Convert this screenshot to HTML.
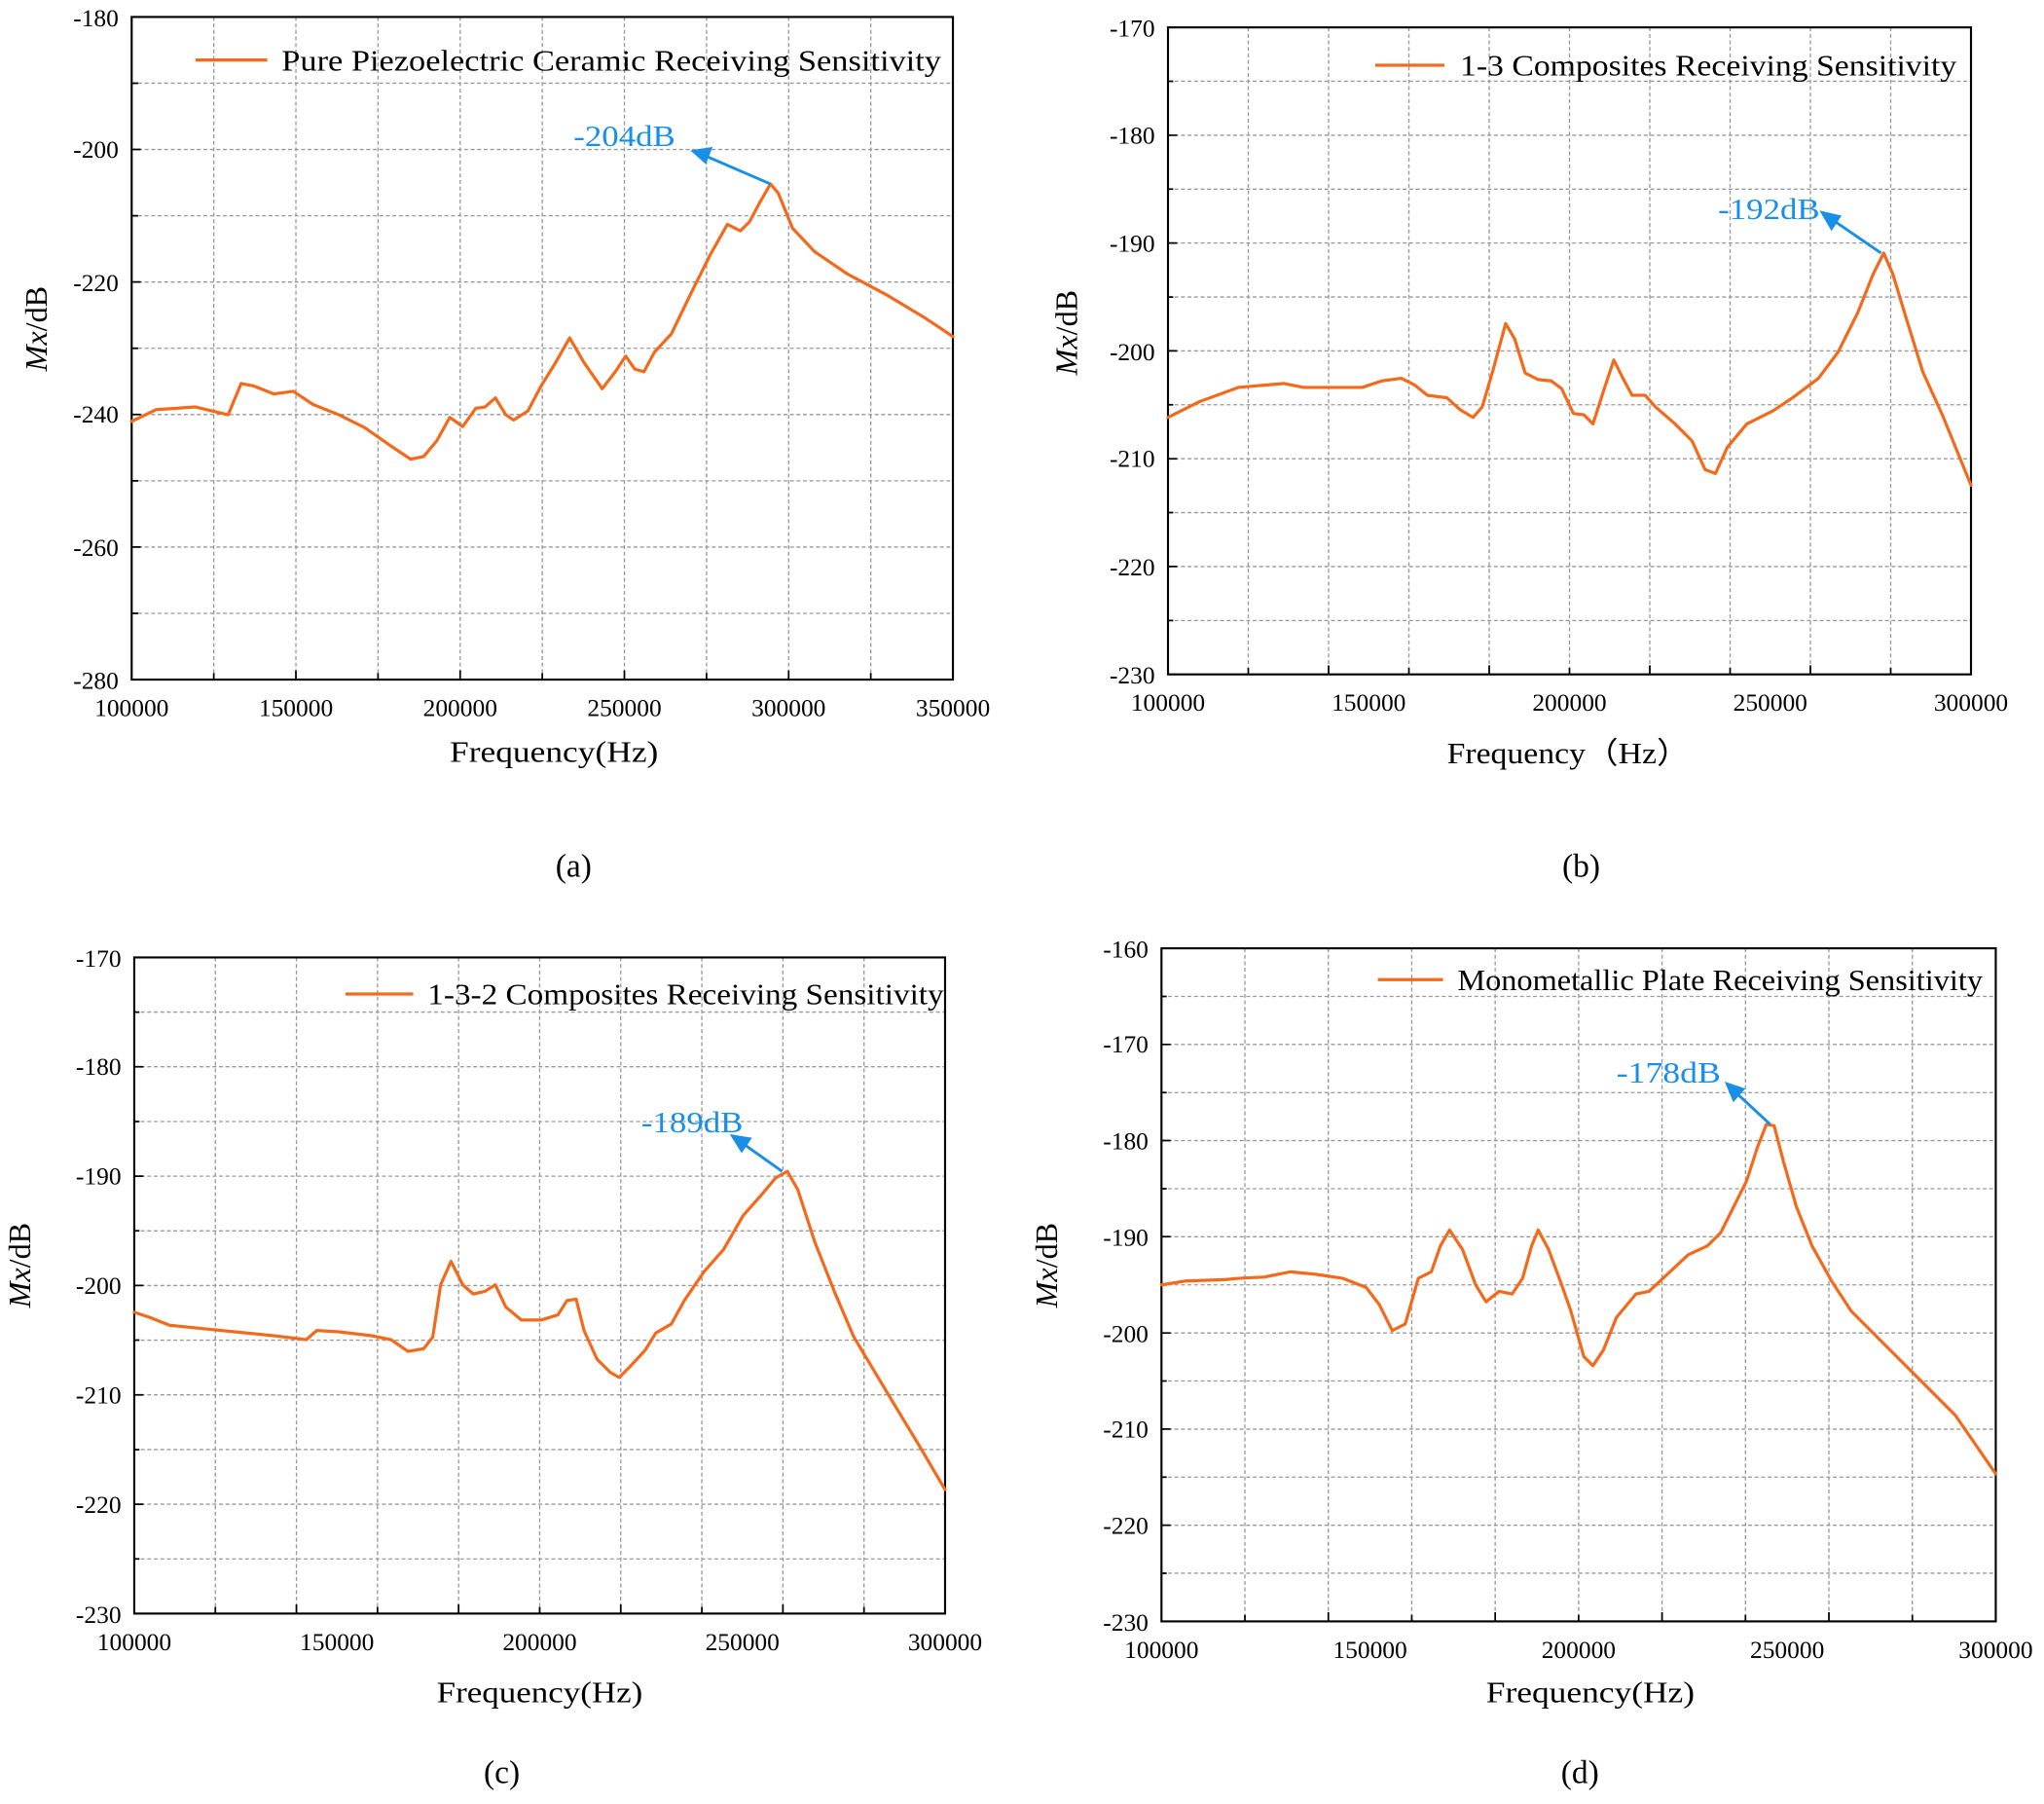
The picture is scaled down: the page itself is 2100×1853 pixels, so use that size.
<!DOCTYPE html>
<html><head><meta charset="utf-8">
<style>html,body{margin:0;padding:0;background:#fff}svg{display:block}</style></head>
<body>
<svg width="2100" height="1853" viewBox="0 0 1568 1383" preserveAspectRatio="none" xmlns="http://www.w3.org/2000/svg" font-family="Liberation Serif, serif">
<rect width="1568" height="1383" fill="#fff"/>
<g fill="none" stroke="#9a9a9a" stroke-width="1" stroke-dasharray="3,2">
<path d="M164 13V521M227 13V521M290 13V521M353 13V521M416 13V521M479 13V521M542 13V521M605 13V521M668 13V521
M101 63.8H731M101 114.6H731M101 165.4H731M101 216.2H731M101 267H731M101 317.8H731M101 368.6H731M101 419.4H731M101 470.2H731"/>
<path d="M957.6 21V517M1019.2 21V517M1080.8 21V517M1142.4 21V517M1204 21V517M1265.6 21V517M1327.2 21V517M1388.8 21V517M1450.4 21V517
M896 62.3H1512M896 103.7H1512M896 145H1512M896 186.3H1512M896 227.7H1512M896 269H1512M896 310.3H1512M896 351.7H1512M896 393H1512M896 434.3H1512M896 475.7H1512"/>
<path d="M165.2 734V1237M227.4 734V1237M289.6 734V1237M351.8 734V1237M414 734V1237M476.2 734V1237M538.4 734V1237M600.6 734V1237M662.8 734V1237
M103 775.9H725M103 817.8H725M103 859.8H725M103 901.7H725M103 943.6H725M103 985.5H725M103 1027.4H725M103 1069.3H725M103 1111.3H725M103 1153.2H725M103 1195.1H725"/>
<path d="M955 727V1243M1019 727V1243M1083 727V1243M1147 727V1243M1211 727V1243M1275 727V1243M1339 727V1243M1403 727V1243M1467 727V1243
M891 763.9H1531M891 800.7H1531M891 837.6H1531M891 874.4H1531M891 911.3H1531M891 948.1H1531M891 985H1531M891 1021.9H1531M891 1058.7H1531M891 1095.6H1531M891 1132.4H1531M891 1169.3H1531M891 1206.1H1531"/>
</g>
<g fill="none" stroke="#000" stroke-width="1.3">
<path d="M164 521v-5M227 521v-7M290 521v-5M353 521v-7M416 521v-5M479 521v-7M542 521v-5M605 521v-7M668 521v-5M101 63.8h5M101 114.6h7M101 165.4h5M101 216.2h7M101 267h5M101 317.8h7M101 368.6h5M101 419.4h7M101 470.2h5"/>
<path d="M957.6 517v-5M1019.2 517v-7M1080.8 517v-5M1142.4 517v-7M1204 517v-5M1265.6 517v-7M1327.2 517v-5M1388.8 517v-7M1450.4 517v-5M896 62.3h4M896 103.7h7M896 145h4M896 186.3h7M896 227.7h4M896 269h7M896 310.3h4M896 351.7h7M896 393h4M896 434.3h7M896 475.7h4"/>
<path d="M165.2 1237v-5M227.4 1237v-7M289.6 1237v-5M351.8 1237v-7M414 1237v-5M476.2 1237v-7M538.4 1237v-5M600.6 1237v-7M662.8 1237v-5M103 775.9h4M103 817.8h7M103 859.8h4M103 901.7h7M103 943.6h4M103 985.5h7M103 1027.4h4M103 1069.3h7M103 1111.3h4M103 1153.2h7M103 1195.1h4"/>
<path d="M955 1243v-5M1019 1243v-7M1083 1243v-5M1147 1243v-7M1211 1243v-5M1275 1243v-7M1339 1243v-5M1403 1243v-7M1467 1243v-5M891 763.9h4M891 800.7h7M891 837.6h4M891 874.4h7M891 911.3h4M891 948.1h7M891 985h4M891 1021.9h7M891 1058.7h4M891 1095.6h7M891 1132.4h4M891 1169.3h7M891 1206.1h4"/>
<rect x="101" y="13" width="630" height="508" stroke-width="1.6"/>
<rect x="896" y="21" width="616" height="496" stroke-width="1.6"/>
<rect x="103" y="734" width="622" height="503" stroke-width="1.6"/>
<rect x="891" y="727" width="640" height="516" stroke-width="1.6"/>
</g>
<g font-size="19" fill="#000" text-anchor="end">
<text x="91" y="20">-180</text><text x="91" y="121">-200</text><text x="91" y="223">-220</text><text x="91" y="324">-240</text><text x="91" y="426">-260</text><text x="91" y="528">-280</text>
<text x="886" y="28">-170</text><text x="886" y="110">-180</text><text x="886" y="193">-190</text><text x="886" y="276">-200</text><text x="886" y="358">-210</text><text x="886" y="441">-220</text><text x="886" y="524">-230</text>
<text x="93" y="741">-170</text><text x="93" y="824">-180</text><text x="93" y="908">-190</text><text x="93" y="992">-200</text><text x="93" y="1076">-210</text><text x="93" y="1160">-220</text><text x="93" y="1244">-230</text>
<text x="881" y="734">-160</text><text x="881" y="807">-170</text><text x="881" y="881">-180</text><text x="881" y="955">-190</text><text x="881" y="1029">-200</text><text x="881" y="1102">-210</text><text x="881" y="1176">-220</text><text x="881" y="1250">-230</text>
</g>
<g font-size="19" fill="#000" text-anchor="middle">
<text x="101" y="549">100000</text><text x="227" y="549">150000</text><text x="353" y="549">200000</text><text x="479" y="549">250000</text><text x="605" y="549">300000</text><text x="731" y="549">350000</text>
<text x="896" y="545">100000</text><text x="1050" y="545">150000</text><text x="1204" y="545">200000</text><text x="1358" y="545">250000</text><text x="1512" y="545">300000</text>
<text x="103" y="1265">100000</text><text x="258.5" y="1265">150000</text><text x="414" y="1265">200000</text><text x="569.5" y="1265">250000</text><text x="725" y="1265">300000</text>
<text x="891" y="1271">100000</text><text x="1051" y="1271">150000</text><text x="1211" y="1271">200000</text><text x="1371" y="1271">250000</text><text x="1531" y="1271">300000</text>
</g>
<g fill="none" stroke="#f26b1d" stroke-width="2.4" stroke-linejoin="round" stroke-linecap="round">
<polyline points="101,323 120,314 150,312 175,318 185,294 195,296 210,302 225,300 240,310 260,318 280,328 300,342 315,352 325,350 335,338 345,320 355,327 365,313 372,312 380,305 388,318 394,322 405,315 415,296 425,280 437,259 448,278 462,298 472,285 480,273 487,283 494,285 502,270 515,256 530,225 545,195 558,172 568,177 575,170 583,155 591,141 597,148 608,175 625,193 650,210 680,226 710,244 731,258"/>
<polyline points="896,320 920,308 950,297 985,294 1000,297 1020,297 1030,297 1045,297 1060,292 1075,290 1085,295 1095,303 1110,305 1120,314 1130,320 1137,312 1145,285 1155,248 1162,260 1170,286 1180,291 1190,292 1198,298 1207,317 1215,318 1222,325 1230,300 1238,276 1245,290 1252,303 1262,303 1270,312 1285,325 1298,338 1308,360 1316,363 1325,343 1340,325 1360,315 1375,305 1395,290 1410,270 1425,240 1437,210 1445,194 1452,210 1462,243 1475,285 1490,318 1512,372"/>
<polyline points="103,1006 115,1010 130,1016 150,1018 180,1021 210,1024 235,1027 243,1020 260,1021 285,1024 300,1027 313,1036 325,1034 332,1025 338,985 346,967 355,985 363,992 372,990 380,985 388,1002 400,1012 415,1012 428,1008 435,997 442,996 448,1020 458,1042 468,1052 475,1056 483,1048 495,1035 503,1022 515,1015 525,997 540,975 555,958 570,932 585,915 595,903 604,898 612,912 625,952 640,990 655,1025 670,1050 685,1075 705,1108 725,1142"/>
<polyline points="891,985 910,982 940,981 950,980 970,979 990,975 1010,977 1030,980 1048,987 1058,1000 1068,1020 1078,1015 1088,980 1098,975 1105,955 1112,943 1122,958 1132,985 1140,998 1150,990 1160,992 1168,980 1175,955 1180,943 1188,958 1198,985 1205,1005 1215,1040 1222,1047 1230,1035 1240,1010 1255,992 1265,990 1280,976 1295,962 1310,955 1320,945 1330,925 1340,905 1348,880 1355,862 1361,863 1368,890 1378,925 1390,955 1405,982 1420,1005 1440,1025 1460,1045 1480,1065 1500,1085 1531,1130"/>
</g>
<g stroke="#1a8fe8" stroke-width="2.2" fill="#1a8fe8">
<line x1="591" y1="141" x2="540" y2="119"/><polygon points="532,116 545,114 541,124"/>
<line x1="1443" y1="194" x2="1405" y2="168"/><polygon points="1398,163 1411,166 1405,175"/>
<line x1="600" y1="898" x2="569" y2="876"/><polygon points="562,871 575,873 569,882"/>
<line x1="1358" y1="862" x2="1331" y2="837"/><polygon points="1325,831 1337,835 1330,843"/>
</g>
<g fill="#1a8fe8" font-size="23">
<text x="440" y="112" textLength="78" lengthAdjust="spacingAndGlyphs">-204dB</text>
<text x="1318" y="168" textLength="78" lengthAdjust="spacingAndGlyphs">-192dB</text>
<text x="492" y="868" textLength="78" lengthAdjust="spacingAndGlyphs">-189dB</text>
<text x="1240" y="830" textLength="80" lengthAdjust="spacingAndGlyphs">-178dB</text>
</g>
<g stroke="#f26b1d" stroke-width="2.4">
<line x1="150" y1="46" x2="205" y2="46"/><line x1="1055" y1="50" x2="1108" y2="50"/>
<line x1="265" y1="762" x2="317" y2="762"/><line x1="1057" y1="751" x2="1107" y2="751"/>
</g>
<g font-size="23" fill="#000" lengthAdjust="spacingAndGlyphs">
<text x="216" y="54" textLength="506" lengthAdjust="spacingAndGlyphs">Pure Piezoelectric Ceramic Receiving Sensitivity</text>
<text x="1120" y="58" textLength="381" lengthAdjust="spacingAndGlyphs">1-3 Composites Receiving Sensitivity</text>
<text x="328" y="770" textLength="396" lengthAdjust="spacingAndGlyphs">1-3-2 Composites Receiving Sensitivity</text>
<text x="1118" y="759" textLength="403" lengthAdjust="spacingAndGlyphs">Monometallic Plate Receiving Sensitivity</text>
<text x="345" y="584" textLength="160" lengthAdjust="spacingAndGlyphs">Frequency(Hz)</text>
<text x="1110" y="585" textLength="186" lengthAdjust="spacingAndGlyphs">Frequency（Hz）</text>
<text x="335" y="1305" textLength="158" lengthAdjust="spacingAndGlyphs">Frequency(Hz)</text>
<text x="1140" y="1305" textLength="160" lengthAdjust="spacingAndGlyphs">Frequency(Hz)</text>
<text x="440" y="672" text-anchor="middle" font-size="25">(a)</text>
<text x="1213" y="672" text-anchor="middle" font-size="25">(b)</text>
<text x="385" y="1367" text-anchor="middle" font-size="25">(c)</text>
<text x="1212" y="1367" text-anchor="middle" font-size="25">(d)</text>
<text transform="translate(36,252) rotate(-90)" text-anchor="middle" font-size="24"><tspan font-style="italic">Mx</tspan>/dB</text>
<text transform="translate(826,255) rotate(-90)" text-anchor="middle" font-size="24"><tspan font-style="italic">Mx</tspan>/dB</text>
<text transform="translate(23,970) rotate(-90)" text-anchor="middle" font-size="24"><tspan font-style="italic">Mx</tspan>/dB</text>
<text transform="translate(811,970) rotate(-90)" text-anchor="middle" font-size="24"><tspan font-style="italic">Mx</tspan>/dB</text>
</g>
</svg>
</body></html>
